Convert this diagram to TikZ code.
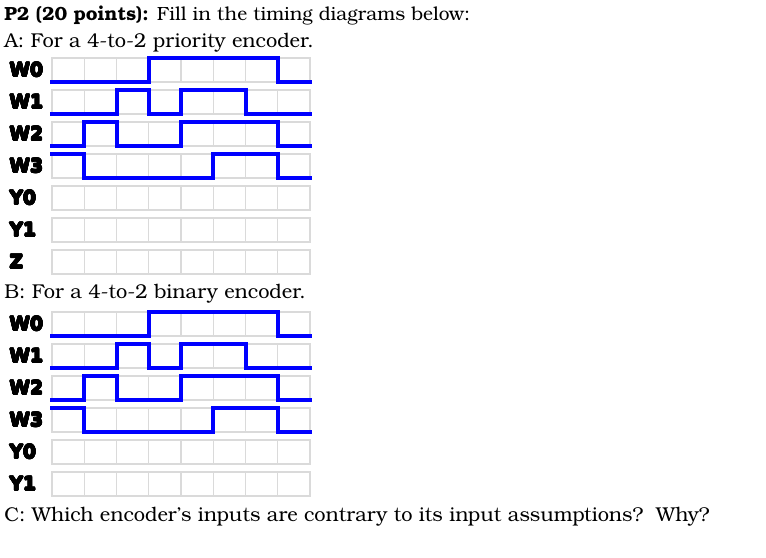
\documentclass[tikz,border=0pt]{standalone}
\usepackage{fontspec}
\usepackage{contour}
\setmainfont{TeX Gyre Bonum}
\newfontfamily\sigfont{DejaVu Sans}
\contourlength{0.45pt}
\contournumber{16}
\definecolor{gridgray}{RGB}{218,218,218}
\definecolor{wireblue}{RGB}{0,0,255}
\tikzset{
  gridline/.style={draw=gridgray, line width=0.9pt},
  wave/.style={draw=wireblue, line width=3pt, line join=miter},
  signame/.style={font=\sigfont\bfseries\fontsize{14}{15}\selectfont, anchor=base west, inner sep=0pt},
  prose/.style={font=\fontsize{15}{17}\selectfont, anchor=base west, inner sep=0pt}
}
\begin{document}
\begin{tikzpicture}[x=0.75pt, y=-0.75pt]
    \useasboundingbox (0,0) rectangle (766,557);
    \node[prose, font=\fontsize{14.3}{16}\selectfont] (title) at (4,20.7) {\textbf{P2 (20 points):} Fill in the timing diagrams below:};
    \node[prose] (partA) at (4,47.7) {A: For a 4-to-2 priority encoder.};
    \node[prose] (partB) at (4,298.3) {B: For a 4-to-2 binary encoder.};
    \node[prose] (partC) at (4,521.7) {C: Which encoder’s inputs are contrary to its input assumptions?\ \ Why?};
    \foreach \t in {58,90,...,250,312,344,...,472} {
      \draw[gridline] (52,\t) rectangle (310,{\t+24});
      \foreach \k in {1,...,7}
        \draw[gridline] ({52+32.25*\k},\t) -- ++(0,24);
    }
    \foreach \n [count=\i from 0] in {W0,W1,W2,W3,Y0,Y1,Z}
      \node[signame] (a\n) at (9.3,{76.5+32*\i}) {\contour{black}{\n}};
    \foreach \n [count=\i from 0] in {W0,W1,W2,W3,Y0,Y1}
      \node[signame] (b\n) at (9.3,{330.5+32*\i}) {\contour{black}{\n}};
    \foreach \dy in {0,254} {
      \draw[wave] (50,{82+\dy}) -| (148.75,{58+\dy}) -| (277.75,{82+\dy}) -- (312,{82+\dy});
      \draw[wave] (50,{114+\dy}) -| (116.5,{90+\dy}) -| (148.75,{114+\dy})
        -| (181,{90+\dy}) -| (245.5,{114+\dy}) -- (312,{114+\dy});
      \draw[wave] (50,{146+\dy}) -| (84.25,{122+\dy}) -| (116.5,{146+\dy})
        -| (181,{122+\dy}) -| (277.75,{146+\dy}) -- (312,{146+\dy});
      \draw[wave] (50,{154+\dy}) -| (84.25,{178+\dy}) -| (213.25,{154+\dy})
        -| (277.75,{178+\dy}) -- (312,{178+\dy});
    }
  \end{tikzpicture}
\end{document}
